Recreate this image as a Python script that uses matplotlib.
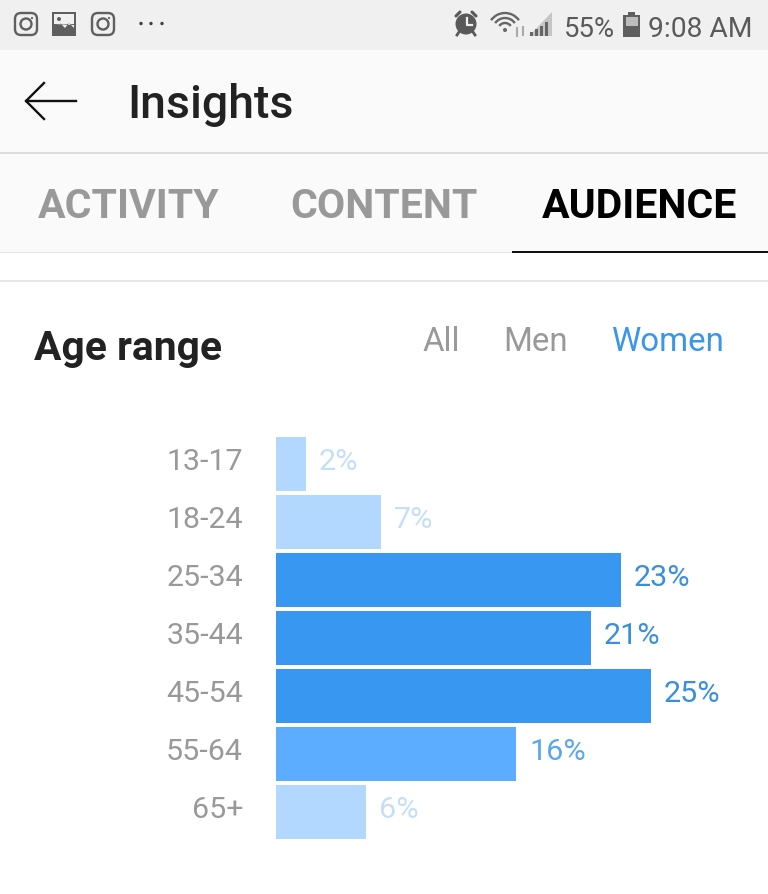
import matplotlib
matplotlib.use("Agg")
import matplotlib.pyplot as plt
from matplotlib.patches import Rectangle, FancyBboxPatch, Circle, Polygon, Arc
from matplotlib.transforms import ScaledTranslation

W, H = 768, 895

# ---------------- DATA ----------------
age_ranges = ["13-17", "18-24", "25-34", "35-44", "45-54", "55-64", "65+"]
women_pct = [2, 7, 23, 21, 25, 16, 6]
bar_colors = ["#b3d8ff", "#b3d8ff", "#3897f0", "#3897f0", "#3897f0", "#5cadff", "#b3d8ff"]
label_colors = ["#c4dff7", "#c4dff7", "#3a8fdc", "#3a8fdc", "#3a8fdc", "#5aa8ec", "#c4dff7"]

plt.rcParams["font.family"] = ["Roboto", "DejaVu Sans"]

fig = plt.figure(figsize=(W / 100, H / 100), dpi=100, facecolor="white")


def px(size):
    # font size from pixels
    return size * 0.72


# ---------------- SCREEN BACKGROUND ----------------
bg = fig.add_axes([0, 0, 1, 1])
bg.set_xlim(0, W)
bg.set_ylim(H, 0)
bg.axis("off")

bg.add_patch(Rectangle((0, 0), W, 50.5, fc="#f0f0f0", ec="none"))
bg.add_patch(Rectangle((0, 50.5), W, 103, fc="#fafafa", ec="none"))
bg.add_patch(Rectangle((0, 153), W, 2, fc="#dcdcdc", ec="none"))
bg.add_patch(Rectangle((0, 155), W, 98, fc="#fafafa", ec="none"))
bg.add_patch(Rectangle((0, 253), W, 1, fc="#e4e4e4", ec="none"))
bg.add_patch(Rectangle((0, 280.5), W, 2, fc="#e6e6e6", ec="none"))
bg.add_patch(Rectangle((512, 252), 256, 1.6, fc="#111111", ec="none"))


# ---------------- STATUS BAR ----------------
def insta_icon(x0):
    bg.add_patch(FancyBboxPatch((x0 + 3, 16), 18, 18, boxstyle="round,pad=2,rounding_size=6",
                                fc="none", ec="#5f5f5f", lw=1.7))
    bg.add_patch(Circle((x0 + 12, 25), 5.5, fc="none", ec="#5f5f5f", lw=1.7))
    bg.add_patch(Circle((x0 + 18, 19), 1.1, fc="#5f5f5f", ec="none"))


insta_icon(14)
insta_icon(91)
bg.add_patch(Rectangle((52, 13), 24, 24, fc="#5f5f5f", ec="none"))
bg.add_patch(Rectangle((54, 15), 20, 10, fc="#f0f0f0", ec="none"))
bg.add_patch(Polygon([[54, 34], [54, 29], [60, 24], [65, 29], [69, 24], [74, 29], [74, 34]],
                     fc="#5f5f5f", ec="none"))
bg.add_patch(Polygon([[54, 25], [60, 24], [65, 29], [69, 24], [74, 29], [74, 26]], fc="#f0f0f0", ec="none"))
bg.add_patch(Rectangle((54, 27), 4, 2, fc="#5f5f5f", ec="none"))
bg.add_patch(Circle((59, 20), 2, fc="#5f5f5f", ec="none"))
for dot_x in (141, 151, 162):
    bg.add_patch(Circle((dot_x, 24.5), 1.7, fc="#404040", ec="none"))

# alarm clock
bg.add_patch(Circle((466, 25), 10.5, fc="#595959", ec="none"))
bg.plot([456, 460], [17, 13], color="#595959", lw=2.2, solid_capstyle="round")
bg.plot([476, 472], [17, 13], color="#595959", lw=2.2, solid_capstyle="round")
bg.plot([459, 457], [33, 36], color="#595959", lw=2)
bg.plot([473, 475], [33, 36], color="#595959", lw=2)
bg.plot([467, 467, 472], [19, 26, 26], color="#f0f0f0", lw=1.6)

# wifi
for r in (7, 12, 17):
    bg.add_patch(Arc((505, 31), r * 2, r * 2, theta1=215, theta2=325, color="#666666", lw=1.7))
bg.add_patch(Circle((505, 31), 2, fc="#666666", ec="none"))
bg.plot([517, 517], [29, 37], color="#aaaaaa", lw=1.5)
bg.plot([523, 523], [28, 36], color="#aaaaaa", lw=1.5)

# signal
bg.add_patch(Polygon([[529, 37], [552, 37], [552, 13]], fc="#c6c6c6", ec="none"))
for bar_x, bar_top in zip((530, 535, 540, 545), (33, 30, 27, 23)):
    bg.add_patch(Rectangle((bar_x, bar_top), 2.5, 37 - bar_top, fc="#666666", ec="none"))

bg.text(564, 37, "55%", fontsize=px(27.5), color="#5a5a5a", va="baseline", ha="left")

# battery
bg.add_patch(Rectangle((623, 16), 17, 22, fc="#5f5f5f", ec="none"))
bg.add_patch(Rectangle((628, 13), 7, 3, fc="#5f5f5f", ec="none"))
bg.add_patch(Rectangle((625.5, 18), 12, 9, fc="#bdbdbd", ec="none"))

bg.text(648, 37, "9:08 AM", fontsize=px(28.3), color="#5a5a5a", va="baseline", ha="left")

# ---------------- HEADER ----------------
bg.plot([26, 76], [102, 102], color="#111111", lw=1.7)
bg.plot([44, 26, 44], [84, 102, 120], color="#111111", lw=1.7)
bg.text(127.5, 118, "Insights", fontsize=px(46.5), weight="medium", color="#222222", va="baseline")

# ---------------- TABS ----------------
tab_names = ["ACTIVITY", "CONTENT", "AUDIENCE"]
tab_x = [37.5, 290, 542]
tab_colors = ["#999999", "#999999", "#000000"]
for name, x, color in zip(tab_names, tab_x, tab_colors):
    bg.text(x, 218, name, weight="bold", fontsize=px(41), color=color, va="baseline")

# ---------------- SECTION TITLE ----------------
bg.text(34, 360, "Age range", fontsize=px(40.7), weight="bold", color="#222222", va="baseline")
filter_names = ["All", "Men", "Women"]
filter_x = [422, 503, 611]
filter_colors = ["#999999", "#999999", "#3a96e8"]
for name, x, color in zip(filter_names, filter_x, filter_colors):
    bg.text(x, 351, name, fontsize=px(33), color=color, va="baseline")

# ---------------- BARS ----------------
# 15 px per percent, 58 px per row
ax = fig.add_axes([276 / W, (H - 842) / H, (W - 276) / W, 406 / H])
ax.patch.set_alpha(0)
ax.set_xlim(0, (W - 276) / 15)
ax.set_ylim(len(age_ranges) - 0.5, -0.5)
rows = list(range(len(age_ranges)))
ax.barh(rows, women_pct, height=53.5 / 58, color=bar_colors)
ax.set_yticks(rows, age_ranges)
ax.set_xticks([])
ax.tick_params(axis="y", length=0, pad=px(33), labelsize=px(30.4), labelcolor="#999999")
up = ScaledTranslation(0, 5.5 / 100, fig.dpi_scale_trans)
for label in ax.get_yticklabels():
    label.set_va("center_baseline")
    label.set_transform(label.get_transform() + up)
for spine in ax.spines.values():
    spine.set_visible(False)
for row, value, color in zip(rows, women_pct, label_colors):
    ax.annotate(f"{value}%", (value, row), xytext=(px(13), px(6)), textcoords="offset points",
                fontsize=px(30.5), color=color, va="center_baseline", ha="left")

fig.savefig("out.png", dpi=100)
